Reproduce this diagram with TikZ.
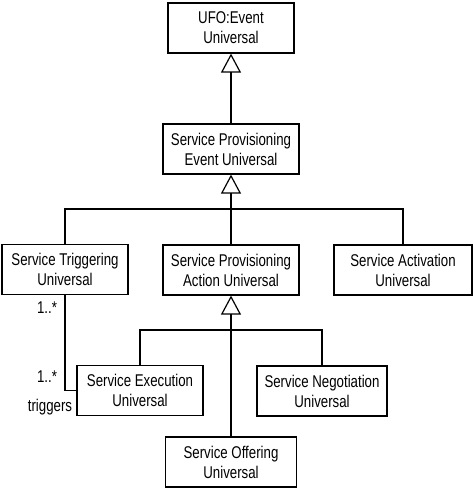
\documentclass[tikz,border=0pt]{standalone}
\usepackage{fontspec}
\setmainfont{Liberation Sans}[FakeStretch=0.78]
\usepackage{tikz}
\usetikzlibrary{arrows.meta}

\tikzset{
  universal/.style={draw, line width=1.2pt, minimum height=50pt, inner sep=0pt,
    align=center, font=\fontsize{17}{20}\selectfont},
  gen/.style={-{Triangle[open, length=19pt, width=20pt, line width=1.2pt]}},
  label/.style={font=\fontsize{17}{20}\selectfont, inner sep=0pt}
}

\begin{document}
\begin{tikzpicture}[x=1pt,y=-1pt,line width=1.2pt]
  \useasboundingbox (0,0) rectangle (474,491);
  % classes
  \node [universal, minimum width=126pt] (ufo) at (231,28) {UFO:Event\\Universal};
  \node [universal, minimum width=136pt] (spe) at (231,149) {Service Provisioning\\Event Universal};
  \node [universal, minimum width=126pt] (trig) at (65,269.5) {Service Triggering\\Universal};
  \node [universal, minimum width=136pt] (spa) at (231,270) {Service Provisioning\\Action Universal};
  \node [universal, minimum width=138pt] (act) at (403,270) {Service Activation\\Universal};
  \node [universal, minimum width=126pt] (exec) at (140,390.5) {Service Execution\\Universal};
  \node [universal, minimum width=130pt] (nego) at (322,391) {Service Negotiation\\Universal};
  \node [universal, minimum width=131pt] (offer) at (231,462) {Service Offering\\Universal};
  % generalizations
  \draw [gen] (spe.north) -- (ufo.south);
  \coordinate (bar1) at (231,209);
  \draw (trig.north) |- (bar1) -| (act.north);
  \draw [gen] (spa.north) -- (spe.south);
  \coordinate (bar2) at (231,330);
  \draw (exec.north) |- (bar2) -| (nego.north);
  \draw [gen] (offer.north) -- (spa.south);
  % association
  \draw (trig.south) |- (exec.west);
  \node [label] (m1) at (47,308) {1..*};
  \node [label] (m2) at (47,377) {1..*};
  \node [label] (trg) at (50,407) {triggers};
\end{tikzpicture}
\end{document}
